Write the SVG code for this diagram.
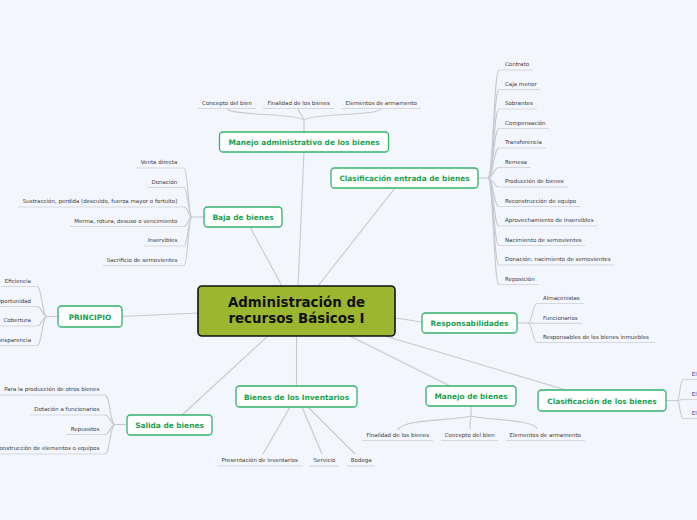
<svg xmlns="http://www.w3.org/2000/svg" width="697" height="520" viewBox="0 0 697 520">
<style>
.bg{fill:#f4f6fd}
.conn path,.conn line{fill:none;stroke:#c6c9d3;stroke-width:1.1}
.ul{stroke:#d6d8e0;stroke-width:1.2}
.sub rect{fill:#ffffff;stroke:#33b36a;stroke-width:1.3}
.sub text{font-family:"DejaVu Sans",Verdana,sans-serif;font-weight:bold;font-size:7.4px;fill:#1c9e52;text-anchor:middle}
.leaf{font-family:"DejaVu Sans",Verdana,sans-serif;font-size:5.5px;fill:#3a3a3a}
.r{text-anchor:end}
.m{text-anchor:middle}
.main rect{fill:#9db62f;stroke:#111111;stroke-width:1.6}
.main text{font-family:"DejaVu Sans",Verdana,sans-serif;font-weight:bold;font-size:13.4px;fill:#111111;text-anchor:middle}
</style>
<rect class="bg" x="0" y="0" width="697" height="520"/>

<g id="connectors" class="conn">
  <line x1="304" y1="152" x2="298" y2="286"/>
  <line x1="395" y1="188" x2="318" y2="286"/>
  <line x1="250" y1="227" x2="282" y2="286"/>
  <line x1="122" y1="316.5" x2="198" y2="313"/>
  <line x1="395" y1="318" x2="422" y2="322"/>
  <line x1="296.5" y1="336" x2="296.5" y2="386"/>
  <line x1="268" y1="336" x2="182" y2="415"/>
  <line x1="350" y1="336" x2="450" y2="386"/>
  <line x1="385" y1="336" x2="566" y2="390"/>
  <!-- Manejo administrativo -->
  <path d="M304,132 L304,120"/>
  <path d="M227,108.5 C229,116 296,113 304,120"/>
  <path d="M298,108.5 C299,114 303,115 304,120"/>
  <path d="M381.5,108.5 C380,116 312,113 304,120"/>
  <!-- Clasificacion entrada -->
  <path d="M478,178 L488,178"/>
  <path d="M488,178 C493.5,178 493.5,70 499,70"/>
  <path d="M488,178 C493.5,178 493.5,89.5 499,89.5"/>
  <path d="M488,178 C493.5,178 493.5,109 499,109"/>
  <path d="M488,178 C493.5,178 493.5,128.5 499,128.5"/>
  <path d="M488,178 C493.5,178 493.5,148 499,148"/>
  <path d="M488,178 C493.5,178 493.5,167.5 499,167.5"/>
  <path d="M488,178 C493.5,178 493.5,187 499,187"/>
  <path d="M488,178 C493.5,178 493.5,206.5 499,206.5"/>
  <path d="M488,178 C493.5,178 493.5,226 499,226"/>
  <path d="M488,178 C493.5,178 493.5,245.5 499,245.5"/>
  <path d="M488,178 C493.5,178 493.5,265 499,265"/>
  <path d="M488,178 C493.5,178 493.5,284.5 499,284.5"/>
  <!-- Baja -->
  <path d="M204,217 L192,217"/>
  <path d="M192,217 C188,217 188,168 184,168"/>
  <path d="M192,217 C188,217 188,187.5 184,187.5"/>
  <path d="M192,217 C188,217 188,207 184,207"/>
  <path d="M192,217 C188,217 188,226.5 184,226.5"/>
  <path d="M192,217 C188,217 188,246 184,246"/>
  <path d="M192,217 C188,217 188,265.5 184,265.5"/>
  <!-- PRINCIPIO -->
  <path d="M58,316.5 L47,316.5"/>
  <path d="M47,316.5 C42,316.5 42,286.5 37,286.5"/>
  <path d="M47,316.5 C42,316.5 42,306.5 37,306.5"/>
  <path d="M47,316.5 C42,316.5 42,326 37,326"/>
  <path d="M47,316.5 C42,316.5 42,345.5 37,345.5"/>
  <!-- Salida -->
  <path d="M127,424.5 L115,424.5"/>
  <path d="M115,424.5 C110,424.5 110,395 105,395"/>
  <path d="M115,424.5 C110,424.5 110,415 105,415"/>
  <path d="M115,424.5 C110,424.5 110,434.5 105,434.5"/>
  <path d="M115,424.5 C110,424.5 110,454 105,454"/>
  <!-- Responsabilidades -->
  <path d="M517,323 L528,323"/>
  <path d="M528,323 C532.5,323 532.5,303.5 537,303.5"/>
  <path d="M528,323 C532.5,323 532.5,323.3 537,323.3"/>
  <path d="M528,323 C532.5,323 532.5,342.5 537,342.5"/>
  <!-- Clasificacion de los bienes -->
  <path d="M666,400.5 L677,400.5"/>
  <path d="M677,400.5 C680,400.5 680,379.5 683,379.5"/>
  <path d="M677,400.5 C680,400.5 680,399.5 683,399.5"/>
  <path d="M677,400.5 C680,400.5 680,418.5 683,418.5"/>
  <!-- Bienes inventarios -->
  <line x1="290" y1="407" x2="263" y2="454"/>
  <line x1="302" y1="407" x2="322" y2="454"/>
  <line x1="308" y1="407" x2="355" y2="454"/>
  <!-- Manejo de bienes -->
  <path d="M471,406 L471,416"/>
  <path d="M471,416 C460,420 400,419 398,430"/>
  <path d="M471,416 C470,420 470,424 470,429"/>
  <path d="M471,416 C482,420 535,419 537,429"/>
</g>

<g id="leaves">
  <!-- Manejo administrativo -->
  <line class="ul" x1="198" y1="108.5" x2="256" y2="108.5"/>
  <line class="ul" x1="263" y1="108.5" x2="334" y2="108.5"/>
  <line class="ul" x1="341" y1="108.5" x2="421" y2="108.5"/>
  <text class="leaf m" x="227" y="105">Concepto del bien</text>
  <text class="leaf m" x="298.7" y="105">Finalidad de los bienes</text>
  <text class="leaf m" x="381.2" y="105">Elementos de armamento</text>
  <!-- Clasificacion entrada -->
  <line class="ul" x1="499" y1="70" x2="533" y2="70"/>
  <line class="ul" x1="499" y1="89.5" x2="540" y2="89.5"/>
  <line class="ul" x1="499" y1="109" x2="537" y2="109"/>
  <line class="ul" x1="499" y1="128.5" x2="549" y2="128.5"/>
  <line class="ul" x1="499" y1="148" x2="546" y2="148"/>
  <line class="ul" x1="499" y1="167.5" x2="531" y2="167.5"/>
  <line class="ul" x1="499" y1="187" x2="568" y2="187"/>
  <line class="ul" x1="499" y1="206.5" x2="580" y2="206.5"/>
  <line class="ul" x1="499" y1="226" x2="597" y2="226"/>
  <line class="ul" x1="499" y1="245.5" x2="585" y2="245.5"/>
  <line class="ul" x1="499" y1="265" x2="614" y2="265"/>
  <line class="ul" x1="499" y1="284.5" x2="539" y2="284.5"/>
  <text class="leaf" x="505" y="66">Contrato</text>
  <text class="leaf" x="505" y="85.5">Caja menor</text>
  <text class="leaf" x="505" y="105">Sobrantes</text>
  <text class="leaf" x="505" y="124.5">Compensación</text>
  <text class="leaf" x="505" y="144">Transferencia</text>
  <text class="leaf" x="505" y="163.5">Remesa</text>
  <text class="leaf" x="505" y="183">Producción de bienes</text>
  <text class="leaf" x="505" y="202.5">Reconstrucción de equipo</text>
  <text class="leaf" x="505" y="222">Aprovechamiento de inservibles</text>
  <text class="leaf" x="505" y="241.5">Nacimiento de semovientes</text>
  <text class="leaf" x="505" y="261">Donación: nacimiento de semovientes</text>
  <text class="leaf" x="505" y="280.5">Reposición</text>
  <!-- Baja -->
  <line class="ul" x1="136" y1="168" x2="184" y2="168"/>
  <line class="ul" x1="147" y1="187.5" x2="184" y2="187.5"/>
  <line class="ul" x1="18" y1="207" x2="184" y2="207"/>
  <line class="ul" x1="70" y1="226.5" x2="184" y2="226.5"/>
  <line class="ul" x1="144" y1="246" x2="184" y2="246"/>
  <line class="ul" x1="103" y1="265.5" x2="184" y2="265.5"/>
  <text class="leaf r" x="177.3" y="164">Venta directa</text>
  <text class="leaf r" x="177.3" y="183.5">Donación</text>
  <text class="leaf r" x="177.3" y="203">Sustracción, perdida (descuido, fuerza mayor o fortuito)</text>
  <text class="leaf r" x="177.3" y="222.5">Merma, rotura, desuso o vencimiento</text>
  <text class="leaf r" x="177.3" y="242">Inservibles</text>
  <text class="leaf r" x="177.3" y="261.5">Sacrificio de semovientes</text>
  <!-- PRINCIPIO -->
  <line class="ul" x1="1" y1="286.5" x2="37" y2="286.5"/>
  <line class="ul" x1="0" y1="306.5" x2="37" y2="306.5"/>
  <line class="ul" x1="0" y1="326" x2="37" y2="326"/>
  <line class="ul" x1="0" y1="345.5" x2="37" y2="345.5"/>
  <text class="leaf r" x="31" y="282.7">Eficiencia</text>
  <text class="leaf r" x="31" y="302.5">Oportunidad</text>
  <text class="leaf r" x="31" y="322">Cobertura</text>
  <text class="leaf r" x="31" y="341.7">Transparencia</text>
  <!-- Salida -->
  <line class="ul" x1="0" y1="395" x2="105" y2="395"/>
  <line class="ul" x1="30" y1="415" x2="105" y2="415"/>
  <line class="ul" x1="66" y1="434.5" x2="105" y2="434.5"/>
  <line class="ul" x1="0" y1="454" x2="105" y2="454"/>
  <text class="leaf r" x="99.3" y="391.3">Para la producción de otros bienes</text>
  <text class="leaf r" x="99.3" y="411">Dotación a funcionarios</text>
  <text class="leaf r" x="99.3" y="430.5">Repuestos</text>
  <text class="leaf r" x="99.3" y="450">Reconstrucción de elementos o equipos</text>
  <!-- Responsabilidades -->
  <line class="ul" x1="537" y1="303.5" x2="584" y2="303.5"/>
  <line class="ul" x1="537" y1="323.3" x2="582" y2="323.3"/>
  <line class="ul" x1="537" y1="342.5" x2="655" y2="342.5"/>
  <text class="leaf" x="543" y="300">Almacenistas</text>
  <text class="leaf" x="543" y="319.5">Funcionarios</text>
  <text class="leaf" x="543" y="338.5">Responsables de los bienes inmuebles</text>
  <!-- Clasificacion de los bienes -->
  <line class="ul" x1="683" y1="379.5" x2="697" y2="379.5"/>
  <line class="ul" x1="683" y1="399.5" x2="697" y2="399.5"/>
  <line class="ul" x1="683" y1="418.5" x2="697" y2="418.5"/>
  <text class="leaf" x="691.7" y="375.7">El</text>
  <text class="leaf" x="691.7" y="395.7">El</text>
  <text class="leaf" x="691.7" y="415">El</text>
  <!-- Bienes inventarios -->
  <line class="ul" x1="217" y1="466" x2="303" y2="466"/>
  <line class="ul" x1="309" y1="466" x2="339" y2="466"/>
  <line class="ul" x1="347" y1="466" x2="375" y2="466"/>
  <text class="leaf m" x="259.7" y="461.5">Presentación de inventarios</text>
  <text class="leaf m" x="324.5" y="461.5">Servicio</text>
  <text class="leaf m" x="361.2" y="461.5">Bodega</text>
  <!-- Manejo de bienes -->
  <line class="ul" x1="362" y1="440.5" x2="433" y2="440.5"/>
  <line class="ul" x1="441" y1="440.5" x2="498" y2="440.5"/>
  <line class="ul" x1="506" y1="440.5" x2="585" y2="440.5"/>
  <text class="leaf m" x="397.8" y="436.5">Finalidad de los bienes</text>
  <text class="leaf m" x="469.7" y="436.5">Concepto del bien</text>
  <text class="leaf m" x="545.3" y="436.5">Elementos de armamento</text>
</g>

<g id="node-central" class="main">
  <rect x="198" y="286" width="197" height="50" rx="4"/>
  <text x="296.5" y="307.3">Administración de</text>
  <text x="296.5" y="322.8">recursos Básicos I</text>
</g>
<g id="node-manejo-administrativo" class="sub">
  <rect x="219.5" y="132" width="169" height="20" rx="3.5"/>
  <text x="304" y="145">Manejo administrativo de los bienes</text>
</g>
<g id="node-clasificacion-entrada" class="sub">
  <rect x="331" y="168" width="147" height="20" rx="3.5"/>
  <text x="404.5" y="181">Clasificación entrada de bienes</text>
</g>
<g id="node-baja" class="sub">
  <rect x="204" y="207" width="78" height="20" rx="3.5"/>
  <text x="243" y="220">Baja de bienes</text>
</g>
<g id="node-principio" class="sub">
  <rect x="58" y="306" width="64" height="21" rx="3.5"/>
  <text x="90" y="319.5">PRINCIPIO</text>
</g>
<g id="node-responsabilidades" class="sub">
  <rect x="422" y="313" width="95" height="20" rx="3.5"/>
  <text x="469.5" y="326">Responsabilidades</text>
</g>
<g id="node-bienes-inventarios" class="sub">
  <rect x="236" y="386" width="121" height="21" rx="3.5"/>
  <text x="296.5" y="399.5">Bienes de los Inventarios</text>
</g>
<g id="node-salida" class="sub">
  <rect x="127" y="415" width="85" height="20" rx="3.5"/>
  <text x="169.5" y="428">Salida de bienes</text>
</g>
<g id="node-manejo-bienes" class="sub">
  <rect x="426" y="386" width="90" height="20" rx="3.5"/>
  <text x="471" y="399">Manejo de bienes</text>
</g>
<g id="node-clasificacion-bienes" class="sub">
  <rect x="538" y="390" width="128" height="21" rx="3.5"/>
  <text x="602" y="403.5">Clasificación de los bienes</text>
</g>
</svg>
